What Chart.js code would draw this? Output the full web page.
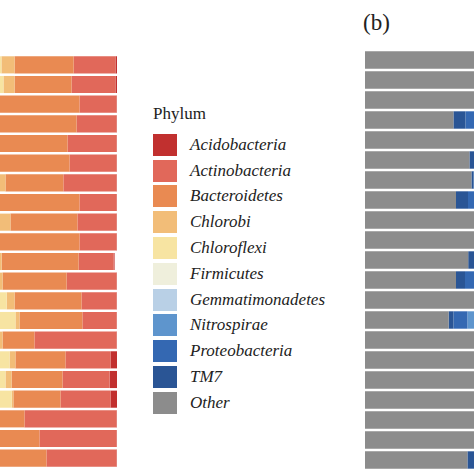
<!DOCTYPE html>
<html>
<head>
<meta charset="utf-8">
<script src="https://cdn.jsdelivr.net/npm/chart.js@4"></script>
<style>
  body { margin: 0; width: 474px; height: 474px; overflow: hidden; position: relative; background: #fff; font-family: "Liberation Serif", serif; }
  #leftBox { position: absolute; left: -175.5px; top: 55px; width: 292.5px; height: 413px; }
  #rightBox { position: absolute; left: 365px; top: 50px; width: 400px; height: 420px; }
  #tag { position: absolute; left: 363px; top: 10px; font-size: 23px; color: #222; }
  #legend { position: absolute; left: 153px; top: 104px; color: #222; }
  #legend .title { font-size: 17px; margin-bottom: 8px; }
  #legend .row { display: flex; align-items: center; height: 25.8px; }
  #legend .sw { width: 24px; height: 22px; margin-right: 13px; }
  #legend .lb { font-size: 17px; font-style: italic; }
</style>
</head>
<body>
<div id="tag">(b)</div>
<div id="legend"><div class="title">Phylum</div></div>
<div id="leftBox"><canvas id="leftChart"></canvas></div>
<div id="rightBox"><canvas id="rightChart"></canvas></div>
<script>
const phyla = ['Acidobacteria', 'Actinobacteria', 'Bacteroidetes', 'Chlorobi', 'Chloroflexi', 'Firmicutes',
    'Gemmatimonadetes', 'Nitrospirae', 'Proteobacteria', 'TM7', 'Other'];
const colors = ['#c1302f', '#e1685a', '#e98a52', '#f2bd78', '#f7e4a2', '#efefdc',
    '#b9d0e6', '#5e95cd', '#3468b2', '#2a5595', '#8c8c8c'];
const samples = Array.from({ length: 21 }, (_, i) => 'S' + (i + 1));

// (a) relative abundance, %
const leftOther = Array(21).fill(52);
const leftProteo = Array(21).fill(2);
const leftFirmicutes = Array(21).fill(1);
const leftChloroflexi = [5.3, 6.0, 2, 2, 2, 2, 2, 2, 2, 2, 2, 2, 7.1, 10.1, 2, 8.1, 6.7, 8.8, 2, 2, 2];
const leftChlorobi = [4.5, 3.8, 2, 2, 2, 2, 4.7, 2, 6.4, 2, 3.4, 3.7, 2.7, 1.4, 3.7, 2.0, 2.1, 0.6, 2, 2, 2];
const leftBacteroidetes = [20.2, 19.5, 28, 27, 23.9, 24.6, 19.8, 28, 22.9, 28, 26.3, 21.9, 22.9, 21.5, 10.9, 17.1, 17.4, 16.1, 9.2, 14.3, 16.7];
const leftActino = [14.3, 15.0, 12.7, 13.7, 16.8, 16.1, 18.2, 12.7, 13.4, 12.7, 12.0, 17.1, 12.0, 11.7, 28.1, 15.4, 16.1, 17.1, 31.5, 26.4, 24.0];
const leftAcido = [0.7, 0.7, 0.3, 0.3, 0.3, 0.3, 0.3, 0.3, 0.3, 0.3, 0.3, 0.3, 0.3, 0.3, 0.3, 2.4, 2.7, 2.4, 0.3, 0.3, 0.3];

// (b) relative abundance, %
const rightOther = [92, 93, 91, 22.1, 94, 26.1, 26.6, 22.75, 93, 92, 25.8, 22.75, 94, 20.9, 93, 94, 92, 93, 94, 92, 25.6];
const rightTM7 = [0, 0, 0, 3.0, 0, 3, 0.5, 3, 0, 0, 3, 2.25, 0, 1.2, 0, 0, 0, 0, 0, 0, 2];
const rightProteo = [0, 0, 0, 4, 0, 2, 1, 4, 0, 0, 2, 4, 0, 3.5, 0, 0, 0, 0, 0, 0, 2];
const rightNitro = [0, 0, 0, 2, 0, 0, 0, 1, 0, 0, 0, 1, 0, 3, 0, 0, 0, 0, 0, 0, 0];

const col = name => colors[phyla.indexOf(name)];
const ds = (name, data) => ({ label: name, data, backgroundColor: col(name), borderWidth: 0,
    barPercentage: 0.87, categoryPercentage: 1 });

function opts() {
    return {
        indexAxis: 'y', responsive: true, maintainAspectRatio: false, animation: false,
        layout: { padding: 0 },
        plugins: { legend: { display: false }, tooltip: { enabled: false } },
        scales: {
            x: { stacked: true, min: 0, max: 100, display: false },
            y: { stacked: true, display: false }
        }
    };
}

new Chart(document.getElementById('leftChart'), {
    type: 'bar',
    data: {
        labels: samples,
        datasets: [
            ds('Other', leftOther), ds('Proteobacteria', leftProteo), ds('Firmicutes', leftFirmicutes),
            ds('Chloroflexi', leftChloroflexi), ds('Chlorobi', leftChlorobi), ds('Bacteroidetes', leftBacteroidetes),
            ds('Actinobacteria', leftActino), ds('Acidobacteria', leftAcido)
        ]
    },
    options: opts()
});

new Chart(document.getElementById('rightChart'), {
    type: 'bar',
    data: {
        labels: samples,
        datasets: [
            ds('Other', rightOther), ds('TM7', rightTM7), ds('Proteobacteria', rightProteo), ds('Nitrospirae', rightNitro)
        ]
    },
    options: opts()
});

const legend = document.getElementById('legend');
phyla.forEach((p, i) => {
    const row = document.createElement('div');
    row.className = 'row';
    row.innerHTML = `<div class="sw" style="background:${colors[i]}"></div><div class="lb">${p}</div>`;
    legend.appendChild(row);
});
</script>
</body>
</html>
